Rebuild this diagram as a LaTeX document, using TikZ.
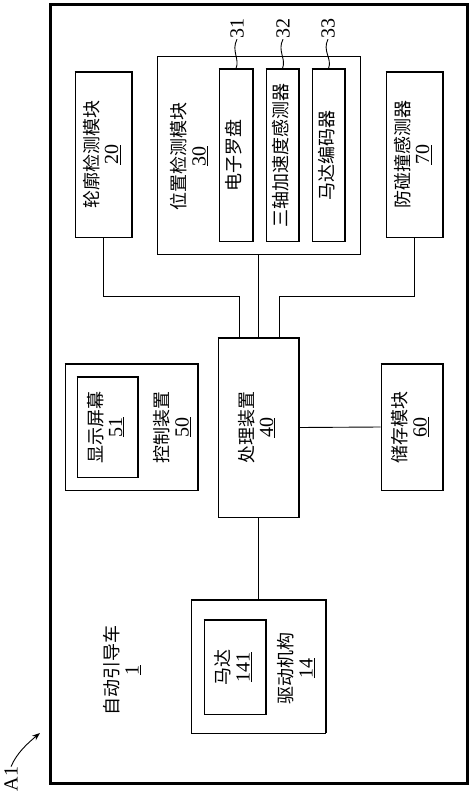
\documentclass[tikz,border=0pt]{standalone}
\usepackage{fontspec}
\setmainfont{Liberation Serif}
\newfontfamily\cjk{Noto Sans CJK SC}
\usetikzlibrary{arrows.meta}
\newcommand\rotxt[1]{\rotatebox{90}{\begin{tabular}{@{}c@{}}#1\end{tabular}}}
\newcommand\num[1]{{\fontsize{20}{20}\selectfont\underline{#1}}}
\newcommand\plainnum[1]{{\fontsize{20}{20}\selectfont #1}}
\begin{document}
\begin{tikzpicture}[x=1pt,y=-1pt,
  box/.style={draw, line width=0.9pt, inner sep=0pt, font=\fontsize{18}{20}\selectfont},
  thinbox/.style={box, line width=0.8pt},
  heavy/.style={line width=2pt},
  wire/.style={line width=0.9pt},
  txt/.style={inner sep=0pt, font=\fontsize{18}{20}\selectfont},
  frame/.style={draw, line width=3pt, inner sep=0pt}]
\useasboundingbox (0,0) rectangle (474,797);

% outer frame
\node[frame, minimum width=417pt, minimum height=778pt] (fr) at (258.5,394) {};

% upper row
\node[box, minimum width=57pt, minimum height=165pt] (n20) at (103.5,154.5) {\rotxt{{\cjk 轮廓检测模块}\\\num{20}}};
\node[thinbox, minimum width=203pt, minimum height=198pt] (n30) at (258.5,155) {};
\node[box, minimum width=34pt, minimum height=172pt] (n31) at (236,155) {\rotxt{\cjk 电子罗盘}};
\node[box, minimum width=33pt, minimum height=172pt] (n32) at (282.5,155) {\rotxt{\cjk 三轴加速度感测器}};
\node[box, minimum width=33pt, minimum height=172pt] (n33) at (328.5,155) {\rotxt{\cjk 马达编码器}};
\node[box, minimum width=57pt, minimum height=165pt] (n70) at (414.5,154.5) {\rotxt{{\cjk 防碰撞感测器}\\\num{70}}};
\node[txt] (t30) at (191,156) {\rotxt{{\cjk 位置检测模块}\\\num{30}}};

% labels 31-33
\node[txt] (l31) at (237,29) {\rotatebox{90}{\plainnum{31}}};
\node[txt] (l32) at (283,29) {\rotatebox{90}{\plainnum{32}}};
\node[txt] (l33) at (328,29) {\rotatebox{90}{\plainnum{33}}};
\draw[wire] (l31.south) .. controls +(-6,12) and +(4,-10) .. (n31.north);
\draw[wire] (l32.south) .. controls +(-6,12) and +(4,-10) .. (n32.north);
\draw[wire] (l33.south) .. controls +(-6,12) and +(4,-10) .. (n33.north);

% middle row
\node[box, minimum width=81pt, minimum height=179pt] (n40) at (258.5,427.5) {\rotxt{{\cjk 处理装置}\\\num{40}}};
\node[box, minimum width=133pt, minimum height=126pt] (n50) at (131.5,427) {};
\node[box, minimum width=61pt, minimum height=100pt] (n51) at (107.5,427) {\rotxt{{\cjk 显示屏幕}\\\num{51}}};
\node[txt] (t50) at (174,427) {\rotxt{{\cjk 控制装置}\\\num{50}}};
\node[box, minimum width=62pt, minimum height=126pt] (n60) at (412,427) {\rotxt{{\cjk 储存模块}\\\num{60}}};

% bottom
\node[box, minimum width=134pt, minimum height=133pt] (n14) at (258.5,666.5) {};
\node[box, minimum width=62pt, minimum height=94pt] (n141) at (235,667) {\rotxt{{\cjk 马达}\\\num{141}}};
\node[txt] (t14) at (298,668) {\rotxt{{\cjk 驱动机构}\\\num{14}}};
\node[txt] (t1) at (124,670) {\rotxt{{\cjk 自动引导车}\\\num{1}}};

% heavy edges (top and right)
\foreach \n in {n20,n31,n32,n33,n70,n40,n50,n51,n60,n14,n141}
  \draw[heavy] (\n.north west) -- (\n.north east) -- (\n.south east);

% wires
\draw[wire] (n20.south) -- ++(0,59) -| ([xshift=-19.5pt]n40.north);
\draw[wire] (n30.south) -- (n40.north);
\draw[wire] (n70.south) -- ++(0,59) -| ([xshift=20.5pt]n40.north);
\draw[wire] (n40.east) -- (n60.west);
\draw[wire] (n40.south) -- (n14.north);

% A1
\node[txt] (a1) at (11,779) {\rotatebox{90}{\plainnum{A1}}};
\draw[line width=0.9pt, -{Stealth[length=8pt,width=6pt]}] (a1.north) .. controls +(6,-14) and +(-12,10) .. (40,733);
\end{tikzpicture}
\end{document}
